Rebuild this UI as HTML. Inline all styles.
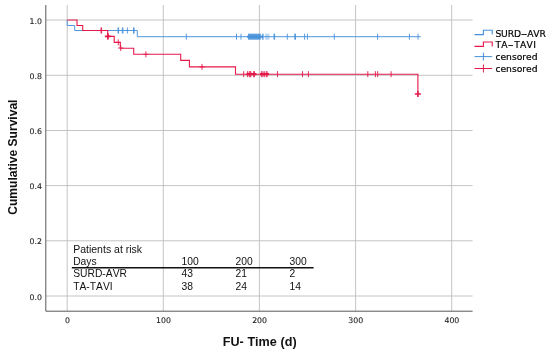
<!DOCTYPE html>
<html><head><meta charset="utf-8"><title>Kaplan-Meier</title>
<style>
html,body{margin:0;padding:0;background:#fff;}
svg{display:block;}
.tick{font-family:"DejaVu Sans","Liberation Sans",sans-serif;font-size:7.8px;fill:#222;stroke:#222;stroke-width:0.12px;}
.leg{font-family:"DejaVu Sans","Liberation Sans",sans-serif;font-size:9.2px;fill:#000;font-kerning:none;stroke:#000;stroke-width:0.18px;}
.ttl{font-family:"Liberation Sans",sans-serif;font-weight:bold;font-size:12px;fill:#111;}
.tab{font-family:"Liberation Sans",sans-serif;font-size:10.3px;fill:#111;font-kerning:none;}
</style></head><body>
<svg width="550" height="353" viewBox="0 0 550 353">
<rect width="550" height="353" fill="#fff"/>

<g stroke="#bdbdbd" stroke-width="0.9" fill="none">
<line x1="67.2" y1="5" x2="67.2" y2="311"/>
<line x1="163.3" y1="5" x2="163.3" y2="311"/>
<line x1="259.4" y1="5" x2="259.4" y2="311"/>
<line x1="355.6" y1="5" x2="355.6" y2="311"/>
<line x1="451.7" y1="5" x2="451.7" y2="311"/>
<line x1="46" y1="20" x2="472.6" y2="20"/>
<line x1="46" y1="75.3" x2="472.6" y2="75.3"/>
<line x1="46" y1="130.5" x2="472.6" y2="130.5"/>
<line x1="46" y1="185.6" x2="472.6" y2="185.6"/>
<line x1="46" y1="240.8" x2="472.6" y2="240.8"/>
<line x1="46" y1="296" x2="472.6" y2="296"/>
</g>
<path d="M45.8 5V311.2H472.6" stroke="#464646" stroke-width="0.9" fill="none"/>
<text class="tick" x="42" y="23.6" text-anchor="end">1.0</text>
<text class="tick" x="42" y="78.9" text-anchor="end">0.8</text>
<text class="tick" x="42" y="134.1" text-anchor="end">0.6</text>
<text class="tick" x="42" y="189.2" text-anchor="end">0.4</text>
<text class="tick" x="42" y="244.4" text-anchor="end">0.2</text>
<text class="tick" x="42" y="299.6" text-anchor="end">0.0</text>
<text class="tick" x="67.4" y="323.2" text-anchor="middle">0</text>
<text class="tick" x="163.5" y="323.2" text-anchor="middle">100</text>
<text class="tick" x="259.6" y="323.2" text-anchor="middle">200</text>
<text class="tick" x="355.8" y="323.2" text-anchor="middle">300</text>
<text class="tick" x="451.9" y="323.2" text-anchor="middle">400</text>
<text class="ttl" transform="translate(17.4,214.7) rotate(-90)" style="font-size:12.05px">Cumulative Survival</text>
<text class="ttl" x="222.8" y="345.5" style="font-size:12.6px;word-spacing:0.3px">FU- Time (d)</text>
<path d="M67.2 20V25.5H74.7V30.5H137.3V36.7H420.8" stroke="#4791da" stroke-width="0.95" fill="none"/>
<path d="M118 27.5V33.5M118.6 27.5V33.5M122.3 27.5V33.5M122.9 27.5V33.5M127.4 27.5V33.5M133.5 27.5V33.5M134.1 27.5V33.5M186.3 33.7V39.7M236.5 33.7V39.7M241 33.7V39.7M248.5 33.7V39.7M249.5 33.7V39.7M250.5 33.7V39.7M251.5 33.7V39.7M252.5 33.7V39.7M253.5 33.7V39.7M254.5 33.7V39.7M255.5 33.7V39.7M256.5 33.7V39.7M257.5 33.7V39.7M258.5 33.7V39.7M259.5 33.7V39.7M260.3 33.7V39.7M262.4 33.7V39.7M274 33.7V39.7M274.6 33.7V39.7M287.3 33.7V39.7M294.8 33.7V39.7M295.5 33.7V39.7M304.6 33.7V39.7M307.4 33.7V39.7M334.3 33.7V39.7M377.6 33.7V39.7M409.4 33.7V39.7M418 33.7V39.7" stroke="#4791da" stroke-width="0.9" fill="none"/>
<path d="M263.5 33.7V39.7M265.9 33.7V39.7M267.1 33.7V39.7M268.8 33.7V39.7" stroke="#4791da" stroke-width="0.55" fill="none"/>
<path d="M67.2 20H77V25.5H82.7V30.5H107.7V36.4H114.2V42.4H120.3V48.2H133.7V54.3H180.7V60.4H189.4V66.9H235.5V74.2H417.9V94" stroke="#e5194a" stroke-width="1.1" fill="none"/>
<path d="M101 27.5V33.5M98.4 30.5H103.6M101.6 27.5V33.5M99.0 30.5H104.19999999999999M107.9 33.4V39.4M105.30000000000001 36.4H110.5M118.3 39.4V45.4M115.7 42.4H120.89999999999999M120.7 45.0V51.0M118.10000000000001 48.0H123.3M145.9 51.3V57.3M143.3 54.3H148.5M202 63.900000000000006V69.9M199.4 66.9H204.6M243.7 71.2V77.2M247.4 71.2V77.2M249.2 71.2V77.2M250 71.2V77.2M250.8 71.2V77.2M253.6 71.2V77.2M254.4 71.2V77.2M261.4 71.2V77.2M262.9 71.2V77.2M264.3 71.2V77.2M266.3 71.2V77.2M267.1 71.2V77.2M277.5 71.2V77.2M302.5 71.2V77.2M308.4 71.2V77.2M367.8 71.2V77.2M375.4 71.2V77.2M377.7 71.2V77.2M391.1 71.2V77.2" stroke="#e5194a" stroke-width="0.9" fill="none"/>
<path d="M246.5 74.2H256.5M260 74.2H269" stroke="#e5194a" stroke-width="2.2" fill="none"/>
<path d="M247 36.7H263" stroke="#4791da" stroke-width="2" fill="none"/>
<path d="M104.9 36.4H110.9M107.9 33.4V39.4M414.9 94H420.9M417.9 91V97" stroke="#e5194a" stroke-width="1.6" fill="none"/>
<path d="M474.5 34.6H483.4V30.2H492.2V34.6" stroke="#4791da" stroke-width="1.1" fill="none"/>
<path d="M474.5 46.4H483.4V42H492.2V46.4" stroke="#e5194a" stroke-width="1.1" fill="none"/>
<path d="M474.5 56.6H492.2M483.4 52.6V60.6" stroke="#4791da" stroke-width="1" fill="none"/>
<path d="M474.5 68.5H492.2M483.4 64.5V72.5" stroke="#e5194a" stroke-width="1" fill="none"/>
<text class="leg" x="495.4" y="36.6" style="letter-spacing:-0.15px">SURD<tspan textLength="6.4" lengthAdjust="spacingAndGlyphs">-</tspan>AVR</text>
<text class="leg" x="495.4" y="48" style="letter-spacing:0.25px">TA<tspan textLength="6.4" lengthAdjust="spacingAndGlyphs">-</tspan>TAVI</text>
<text class="leg" x="495.4" y="59.8">censored</text>
<text class="leg" x="495.4" y="71.6">censored</text>
<text class="tab" x="73.2" y="252.6" style="font-size:10.5px">Patients at risk</text>
<text class="tab" x="73.2" y="264.6">Days</text>
<text class="tab" x="181.6" y="264.6">100</text>
<text class="tab" x="235.6" y="264.6">200</text>
<text class="tab" x="289.6" y="264.6">300</text>
<text class="tab" x="73.2" y="277.4">SURD-AVR</text>
<text class="tab" x="181.6" y="277.4">43</text>
<text class="tab" x="235.6" y="277.4">21</text>
<text class="tab" x="289.6" y="277.4">2</text>
<text class="tab" x="73.2" y="289.8">TA-TAVI</text>
<text class="tab" x="181.6" y="289.8">38</text>
<text class="tab" x="235.6" y="289.8">24</text>
<text class="tab" x="289.6" y="289.8">14</text>
<line x1="71.8" y1="267.8" x2="313.6" y2="267.8" stroke="#111" stroke-width="1.5"/>
</svg></body></html>
